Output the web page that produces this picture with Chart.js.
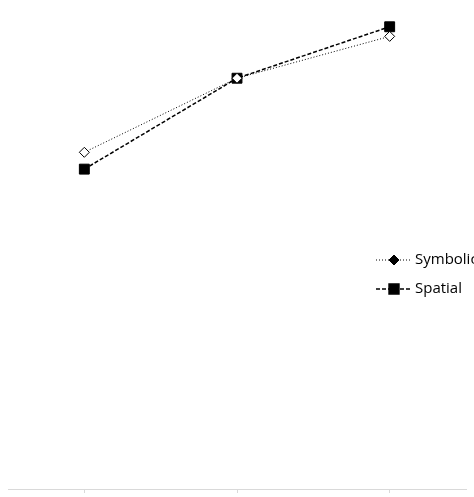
<!DOCTYPE html>
<html>
<head>
<meta charset="utf-8">
<script src="https://cdn.jsdelivr.net/npm/chart.js@4/dist/chart.umd.min.js"></script>
<style>
  html, body { margin: 0; padding: 0; background: #fff; }
  #wrap { width: 474px; height: 497px; }
</style>
</head>
<body>
<div id="wrap"><canvas id="chart"></canvas></div>
<script>
// data (y axis hidden, so values are relative)
const positions = [1, 2, 3];
const symbolicValues = [70.0, 85.4, 94.1];
const spatialValues = [66.5, 85.4, 96.1];
const seriesNames = ['Symbolic', 'Spatial'];

function toPoints(vals) {
    return vals.map((v, i) => ({ x: positions[i], y: v }));
}

// legend drawn by hand because the original one runs off the right edge
const sideLegend = {
    id: 'sideLegend',
    afterDraw(chart) {
        const ctx = chart.ctx;
        const rows = [
            { y: 260, ds: chart.data.datasets[0] },
            { y: 289, ds: chart.data.datasets[1] }
        ];
        ctx.save();
        rows.forEach((r, i) => {
            ctx.strokeStyle = '#000';
            ctx.lineWidth = r.ds.borderWidth;
            ctx.setLineDash(r.ds.borderDash);
            ctx.beginPath();
            ctx.moveTo(376, r.y);
            ctx.lineTo(411, r.y);
            ctx.stroke();
            ctx.setLineDash([]);
            Chart.helpers.drawPoint(ctx, {
                pointStyle: r.ds.pointStyle,
                radius: r.ds.pointRadius,
                borderWidth: 1
            }, 394, r.y);
            ctx.fillStyle = r.ds.pointBackgroundColor;
            ctx.strokeStyle = '#000';
            ctx.fillStyle = '#000';
            ctx.font = '15px "Open Sans", sans-serif';
            ctx.textBaseline = 'middle';
            ctx.fillText(seriesNames[i], 415, r.y);
        });
        ctx.restore();
    }
};

new Chart(document.getElementById('chart'), {
    type: 'line',
    data: {
        datasets: [
            {
                label: seriesNames[0],
                data: toPoints(symbolicValues),
                borderColor: '#000',
                borderWidth: 1,
                borderDash: [1, 2],
                pointStyle: 'rectRot',
                pointRadius: 5,
                pointBackgroundColor: '#fff',
                pointBorderColor: '#000',
                pointBorderWidth: 1
            },
            {
                label: seriesNames[1],
                data: toPoints(spatialValues),
                borderColor: '#000',
                borderWidth: 1.5,
                borderDash: [4, 2],
                pointStyle: 'rect',
                pointRadius: 7,
                pointBackgroundColor: '#000',
                pointBorderColor: '#000',
                pointBorderWidth: 1
            }
        ]
    },
    options: {
        responsive: true,
        maintainAspectRatio: false,
        animation: false,
        layout: { padding: { top: 0, left: 0, right: 0, bottom: 0 } },
        plugins: { legend: { display: false }, tooltip: { enabled: false } },
        scales: {
            x: {
                type: 'linear',
                min: 0.5,
                max: 3.5,
                afterBuildTicks(axis) {
                    axis.ticks = positions.map(p => ({ value: p }));
                },
                ticks: { display: false },
                grid: { drawOnChartArea: false, tickLength: 4, color: '#d9d9d9' },
                border: { color: '#d9d9d9', width: 1 }
            },
            y: {
                display: false,
                min: 0,
                max: 100
            }
        }
    },
    plugins: [sideLegend]
});
</script>
</body>
</html>
